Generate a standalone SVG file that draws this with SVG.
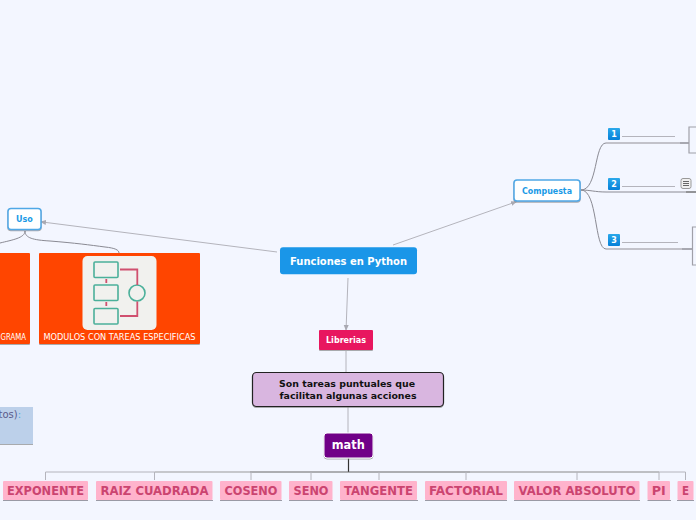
<svg xmlns="http://www.w3.org/2000/svg" width="696" height="520" viewBox="0 0 696 520">
<style>
text{font-family:"DejaVu Sans",sans-serif;font-weight:700;text-anchor:middle}
.c{fill:none;stroke:#b4b4bc;stroke-width:1}
.d{fill:none;stroke:#8a8a93;stroke-width:1}
.h{fill:none;stroke:#c2c2ca;stroke-width:2}
.k{fill:none;stroke:#8f8f98;stroke-width:1.500}
.t{fill:#ffb3cc}
.u{stroke:#9a9aa5;stroke-width:1}
.p{fill:#cb4470;font-size:11.500px}
.b{fill:#fff;stroke:#4fa8e6;stroke-width:1.500;filter:url(#sh)}
.bl{fill:#1a9ae6;font-size:8px}
.n{fill:url(#ng)}
.nt{fill:#fff;font-size:8px}
.g{fill:#f1f1ee}
.s{fill:none;stroke:#4bb09a;stroke-width:1.600}
.r{fill:none;stroke:#d0506f;stroke-width:1.800}
.o{font-weight:400;fill:#fff;font-size:8.200px}
</style>
<defs>
<marker id="a" markerWidth="7" markerHeight="7" refX="6" refY="3" orient="auto"><path d="M0 0.500L6 3L0 5.500z" fill="#a9a9b2"/></marker>
<linearGradient id="ng" x1="0" y1="0" x2="0" y2="1"><stop offset="0" stop-color="#2aa8ea"/><stop offset="1" stop-color="#0580d8"/></linearGradient>
<filter id="sh" x="-20%" y="-20%" width="140%" height="140%"><feDropShadow dx="0" dy="1" stdDeviation="0.600" flood-color="#777" flood-opacity="0.600"/></filter>
</defs>
<rect width="696" height="520" fill="#f3f6ff"/>
<g id="connectors">
<path class="c" d="M277 252L40 221.700" marker-end="url(#a)"/>
<path class="c" d="M393 245L517 201.500" marker-end="url(#a)"/>
<path class="c" d="M348 278L346 331" marker-end="url(#a)"/>
<path class="c" d="M346 351V372M348 407V433" stroke-width="1.200"/>
<path d="M348.500 458V472" stroke="#333" stroke-width="1.200" fill="none"/>
<path class="c" d="M45.500 480V472H155M659 472H685.500V480"/>
<path d="M155 472H250" stroke="#999" fill="none"/><path d="M250 472H470" stroke="#666" fill="none"/><path d="M470 472H659" stroke="#888" fill="none"/>
<path class="c" d="M154.500 480V472M251 480V472M311 480V472M379 480V472M466 480V472M577 480V472M659 480V472" stroke="#a8a8b0"/>
<path class="d" d="M25 231C25 238 12 240 0 243M25 231C25 238 33 240 50 241C75 243 90 245 105 247C115 248 119 250 119 253"/>
<path class="d" d="M581 190C598 190 594 143 606 143M581 190C590 190 595 192 606 192H696M581 190C598 190 594 249 606 249"/>
<path class="h" d="M606 143H680M606 249H682"/>
<path class="c" d="M622 136.500H675M622 186.500H675M622 242.500H678"/>
<path class="k" d="M680 143H689M682 249H692"/>
<path d="M696 127H689V153H696M696 227H692.500V265H696" fill="none" stroke="#a0a0a8" stroke-width="1.200"/>
<path d="M686 192H696" stroke="#777" stroke-width="1.200"/>
</g>
<g id="uso"><rect class="b" x="8" y="208.500" width="33" height="21" rx="3"/><text class="bl" x="24.500" y="222">Uso</text></g>
<g id="programa"><rect x="-10" y="253" width="40" height="91" rx="1" fill="#ff4500" filter="url(#sh)"/><text class="o" x="13.300" y="340" textLength="25.500" lengthAdjust="spacingAndGlyphs">GRAMA</text></g>
<g id="modulos"><rect x="39" y="253" width="161" height="91" rx="1" fill="#ff4500" filter="url(#sh)"/>
<rect class="g" x="82.500" y="256" width="74" height="74" rx="5"/>
<rect class="s" x="94" y="262" width="24" height="15.500" rx="1"/><rect class="s" x="94" y="285" width="24" height="15.500" rx="1"/><rect class="s" x="94" y="308.500" width="24" height="15.500" rx="1"/>
<circle class="s" cx="137" cy="293" r="8"/>
<path class="r" d="M120 269.500H137.300V285M137.300 301.500V316H120M106.300 279V283M106.300 302V306"/>
<text class="o" x="119.500" y="340" textLength="152" lengthAdjust="spacingAndGlyphs">MODULOS CON TAREAS ESPECIFICAS</text></g>
<g id="funciones"><rect x="280" y="247.300" width="137" height="27" rx="3" fill="#1a96e8"/><text x="348.500" y="265" fill="#fff" font-size="10px" textLength="117" lengthAdjust="spacingAndGlyphs">Funciones en Python</text></g>
<g id="librerias"><rect x="319" y="330" width="54" height="20" rx="1" fill="#e8185f" filter="url(#sh)"/><text x="346" y="343.300" fill="#fff" font-size="8.300px" textLength="40" lengthAdjust="spacingAndGlyphs">Librerias</text></g>
<g id="tareas"><rect x="252.500" y="372.500" width="191" height="34" rx="4" fill="#d9b6e0" stroke="#222" stroke-width="1.200" filter="url(#sh)"/><text x="347" y="387" fill="#111" font-size="9.400px" textLength="136" lengthAdjust="spacingAndGlyphs">Son tareas puntuales que</text><text x="348" y="399" fill="#111" font-size="9.400px" textLength="137" lengthAdjust="spacingAndGlyphs">facilitan algunas acciones</text></g>
<g id="math"><rect x="324" y="433" width="49" height="25" rx="3" fill="#6f0087" stroke="#fff" filter="url(#sh)"/><text x="348.300" y="449" fill="#fff" font-size="11.500px" textLength="33" lengthAdjust="spacingAndGlyphs">math</text></g>
<g id="param"><rect x="-10" y="407" width="43" height="37" fill="#bcd0ea" filter="url(#sh)"/><text x="21" y="418" style="text-anchor:end;font-weight:400;fill:#5a5a8a;font-size:10px">tos)<tspan fill="#4aa8e0">:</tspan></text></g>
<g id="exponente"><rect class="t" x="3" y="481" width="85" height="19" rx="1"/><path class="u" d="M3 500.500H88"/><text class="p" x="45.500" y="495" textLength="77" lengthAdjust="spacingAndGlyphs">EXPONENTE</text></g>
<g id="raiz"><rect class="t" x="96" y="481" width="116.500" height="19" rx="1"/><path class="u" d="M96 500.500H213"/><text class="p" x="154.500" y="495" textLength="108" lengthAdjust="spacingAndGlyphs">RAIZ CUADRADA</text></g>
<g id="coseno"><rect class="t" x="220" y="481" width="61.500" height="19" rx="1"/><path class="u" d="M220 500.500H282"/><text class="p" x="251" y="495" textLength="53" lengthAdjust="spacingAndGlyphs">COSENO</text></g>
<g id="seno"><rect class="t" x="289" y="481" width="43.500" height="19" rx="1"/><path class="u" d="M289 500.500H333"/><text class="p" x="311" y="495" textLength="35" lengthAdjust="spacingAndGlyphs">SENO</text></g>
<g id="tangente"><rect class="t" x="340" y="481" width="77" height="19" rx="1"/><path class="u" d="M340 500.500H418"/><text class="p" x="378.500" y="495" textLength="69" lengthAdjust="spacingAndGlyphs">TANGENTE</text></g>
<g id="factorial"><rect class="t" x="425" y="481" width="82" height="19" rx="1"/><path class="u" d="M425 500.500H507"/><text class="p" x="466" y="495" textLength="74" lengthAdjust="spacingAndGlyphs">FACTORIAL</text></g>
<g id="valor"><rect class="t" x="514" y="481" width="125.500" height="19" rx="1"/><path class="u" d="M514 500.500H640"/><text class="p" x="577" y="495" textLength="117" lengthAdjust="spacingAndGlyphs">VALOR ABSOLUTO</text></g>
<g id="pi"><rect class="t" x="647.500" y="481" width="22.500" height="19" rx="1"/><path class="u" d="M647.500 500.500H671"/><text class="p" x="658.700" y="495" textLength="14" lengthAdjust="spacingAndGlyphs">PI</text></g>
<g id="e"><rect class="t" x="677.500" y="481" width="16" height="19" rx="1"/><path class="u" d="M677 500.500H694"/><text class="p" x="685.500" y="495" textLength="7" lengthAdjust="spacingAndGlyphs">E</text></g>
<g id="compuesta"><rect class="b" x="514" y="180" width="66" height="21" rx="3"/><text class="bl" x="547" y="194" textLength="50" lengthAdjust="spacingAndGlyphs">Compuesta</text></g>
<g id="n1"><rect class="n" x="608" y="128" width="12" height="12" rx="1"/><text class="nt" x="614" y="137">1</text></g>
<g id="n2"><rect class="n" x="608" y="178" width="12" height="12" rx="1"/><text class="nt" x="614" y="187">2</text></g>
<g id="n3"><rect class="n" x="608" y="234" width="12" height="12" rx="1"/><text class="nt" x="614" y="243">3</text></g>
<g id="nota"><rect x="681" y="178.500" width="10" height="10" rx="2" fill="#f0f0f0" stroke="#999"/><path d="M683 181.500H689M683 183.500H689M683 185.500H689" stroke="#444" stroke-width="0.800"/></g>
</svg>
